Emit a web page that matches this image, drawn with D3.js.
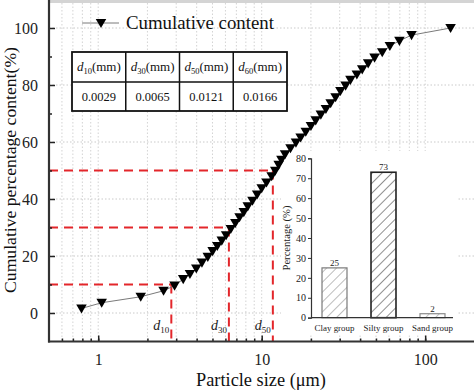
<!DOCTYPE html>
<html>
<head>
<meta charset="utf-8">
<script src="https://cdn.jsdelivr.net/npm/d3@7"></script>
<style>
  html, body { margin: 0; padding: 0; background: #fff; }
  svg { display: block; }
  svg text { font-family: "Liberation Serif", "Times New Roman", serif; }
</style>
</head>
<body>
<svg id="chart" width="474" height="392"></svg>
<script>
// ---- Data ----
const particleSize = [0.79, 1.05, 1.82, 2.51, 2.93, 3.31, 3.64, 3.98, 4.31, 4.68, 5.01, 5.35, 5.70, 6.06, 6.47, 6.90, 7.32, 7.77, 8.22, 8.78, 9.38, 10.0, 10.7, 11.5, 12.1, 12.7, 13.2, 13.9, 15.0, 16.2, 17.3, 18.6, 20.0, 21.4, 23.0, 24.7, 26.4, 28.3, 30.3, 32.6, 34.9, 38.2, 41.2, 44.8, 49.0, 54.6, 60.8, 69.6, 82.5, 143];
const cumulative   = [1.6, 3.6, 5.7, 7.8, 9.6, 11.9, 13.7, 15.6, 17.7, 19.7, 21.7, 23.5, 25.4, 27.3, 29.5, 31.6, 33.6, 35.4, 37.4, 39.4, 41.6, 43.8, 45.8, 48.0, 49.9, 52.0, 53.8, 55.7, 57.8, 59.8, 61.6, 63.6, 65.6, 67.6, 69.6, 71.6, 73.6, 75.7, 77.9, 79.8, 81.8, 83.7, 85.5, 87.6, 89.6, 91.5, 93.7, 95.5, 97.5, 100];
const guideLevels = [10, 30, 50];
const guideSizes = [2.8, 6.3, 11.7];
const guideLabels = ["10", "30", "50"];
const tableHeaders = ["10", "30", "50", "60"];
const tableValues = ["0.0029", "0.0065", "0.0121", "0.0166"];
const xTickValues = [1, 10, 100];
const yTickValues = [0, 20, 40, 60, 80, 100];
const groupNames = ["Clay group", "Silty group", "Sand group"];
const groupValues = [25, 73, 2];
const insetTicks = [0, 10, 20, 30, 40, 50, 60, 70, 80];

const SERIF = "Liberation Serif, Times New Roman, serif";
function fitWidth(sel, target) {
  const n = sel.node();
  const fs = parseFloat(sel.attr("font-size"));
  const w = n.getComputedTextLength();
  if (w > 0) sel.attr("font-size", (fs * target / w).toFixed(2));
  return sel;
}

// ---- Setup ----
const svg = d3.select("#chart");
const W = 474, H = 392;
const left = 49, bottom = 341.5;
const x = d3.scaleLog().domain([0.5, 200]).range([left, 474.4]);
const y = d3.scaleLinear().domain([-10, 110]).range([bottom, -0.5]);

// Top band (top frame)
svg.append("rect").attr("x", left).attr("y", 0).attr("width", W - left).attr("height", 3).attr("fill", "#d4d4d4");

// Grid
const minorX = [];
[0.1, 1, 10, 100].forEach(d => { for (let k = 1; k <= 9; k++) { const v = d * k; if (v > 0.5 && v <= 200) minorX.push(v); } });
const grid = svg.append("g");
grid.selectAll("line.vx").data(minorX).join("line")
  .attr("x1", d => x(d)).attr("x2", d => x(d)).attr("y1", 3).attr("y2", bottom)
  .attr("stroke", "#c8c8c8").attr("stroke-width", 0.8).attr("stroke-dasharray", "1.5,2");
grid.selectAll("line.hy").data(yTickValues).join("line")
  .attr("x1", left).attr("x2", W).attr("y1", d => y(d)).attr("y2", d => y(d))
  .attr("stroke", "#bdbdbd").attr("stroke-width", 0.8).attr("stroke-dasharray", "1.5,2");

// Red guide lines
const red = "#e3262b";
guideLevels.forEach((lv, i) => {
  svg.append("line").attr("x1", left).attr("x2", x(guideSizes[i])).attr("y1", y(lv)).attr("y2", y(lv))
    .attr("stroke", red).attr("stroke-width", 2).attr("stroke-dasharray", "9,6");
  svg.append("line").attr("x1", x(guideSizes[i])).attr("x2", x(guideSizes[i])).attr("y1", y(lv)).attr("y2", bottom)
    .attr("stroke", red).attr("stroke-width", 2).attr("stroke-dasharray", "9,6");
  const t = svg.append("text").attr("x", x(guideSizes[i]) - 2).attr("y", 330)
    .attr("text-anchor", "end").attr("font-size", 14).attr("fill", "#222").attr("font-family", SERIF);
  t.append("tspan").attr("font-style", "italic").text("d");
  t.append("tspan").attr("font-size", 9).attr("dy", 3).text(guideLabels[i]);
});

// Inset background (drawn before curve so markers stay visible)
svg.append("rect").attr("x", 281).attr("y", 151).attr("width", 176).attr("height", 184).attr("fill", "#fff");

// Axes
const xAxisG = svg.append("g").attr("transform", `translate(0,${bottom})`);
xAxisG.call(d3.axisBottom(x).tickValues(minorX.filter(d => d < 200)).tickSize(-3).tickFormat(""))
  .call(g => g.select(".domain").remove());
xAxisG.append("g").call(d3.axisBottom(x).tickValues(xTickValues).tickSize(-6).tickPadding(12).tickFormat(d3.format("d")))
  .call(gg => gg.select(".domain").remove())
  .call(gg => gg.selectAll("text").attr("font-size", 16).attr("fill", "#222").attr("font-family", SERIF));
xAxisG.selectAll("line").attr("stroke", "#222").attr("stroke-width", 1.5);
svg.append("line").attr("x1", left - 1).attr("x2", W).attr("y1", bottom).attr("y2", bottom).attr("stroke", "#333").attr("stroke-width", 2.2);

const yAxisG = svg.append("g").attr("transform", `translate(${left},0)`);
yAxisG.call(d3.axisLeft(y).tickValues([10, 30, 50, 70, 90]).tickSize(-3).tickFormat(""))
  .call(g => g.select(".domain").remove());
yAxisG.append("g").call(d3.axisLeft(y).tickValues(yTickValues).tickSize(-6).tickPadding(11))
  .call(g => g.select(".domain").remove())
  .call(g => g.selectAll("text").attr("font-size", 16).attr("fill", "#222").attr("font-family", SERIF));
yAxisG.selectAll("line").attr("stroke", "#222").attr("stroke-width", 1.5);
svg.append("line").attr("x1", left).attr("x2", left).attr("y1", 0).attr("y2", bottom + 1).attr("stroke", "#333").attr("stroke-width", 2.2);

// Line + markers
const line = d3.line().x((d, i) => x(particleSize[i])).y((d, i) => y(cumulative[i]));
svg.append("path").datum(cumulative).attr("d", line).attr("fill", "none").attr("stroke", "#7a7a7a").attr("stroke-width", 1);
const tri = d3.symbol().type(d3.symbolTriangle).size(48);
svg.selectAll("path.m").data(cumulative).join("path")
  .attr("d", tri)
  .attr("transform", (d, i) => `translate(${x(particleSize[i])},${y(d) - 1}) rotate(180)`)
  .attr("fill", "#000");

// Axis titles
fitWidth(svg.append("text").attr("x", 261).attr("y", 386).attr("text-anchor", "middle").attr("font-size", 19)
  .attr("font-family", SERIF).attr("fill", "#111").text("Particle size (\u03bcm)"), 130);
fitWidth(svg.append("text").attr("transform", "translate(15.5,170) rotate(-90)").attr("text-anchor", "middle").attr("font-size", 18)
  .attr("font-family", SERIF).attr("fill", "#111").text("Cumulative percentage content(%)"), 246);

// Legend
svg.append("line").attr("x1", 82).attr("x2", 119).attr("y1", 23).attr("y2", 23).attr("stroke", "#7a7a7a").attr("stroke-width", 1);
svg.append("path").attr("d", tri).attr("transform", "translate(101,22) rotate(180)").attr("fill", "#000");
fitWidth(svg.append("text").attr("x", 126).attr("y", 29).attr("font-size", 18).attr("font-family", SERIF)
  .attr("fill", "#111").text("Cumulative content"), 148);

// Table
const tx0 = 72, tx1 = 287, ty0 = 52, ty1 = 111, tmid = 82;
const colW = (tx1 - tx0) / 4;
const tbl = svg.append("g");
tbl.append("rect").attr("x", tx0).attr("y", ty0).attr("width", tx1 - tx0).attr("height", ty1 - ty0).attr("fill", "#fff").attr("stroke", "#111").attr("stroke-width", 1.8);
tbl.append("line").attr("x1", tx0).attr("x2", tx1).attr("y1", tmid).attr("y2", tmid).attr("stroke", "#111").attr("stroke-width", 1.5);
for (let i = 1; i < 4; i++) {
  tbl.append("line").attr("x1", tx0 + i * colW).attr("x2", tx0 + i * colW).attr("y1", ty0).attr("y2", ty1).attr("stroke", "#111").attr("stroke-width", 1.5);
}
tableHeaders.forEach((h, i) => {
  const t = tbl.append("text").attr("x", tx0 + (i + 0.5) * colW).attr("y", 71).attr("text-anchor", "middle").attr("font-size", 13)
    .attr("font-family", SERIF).attr("fill", "#111");
  t.append("tspan").attr("font-style", "italic").text("d");
  t.append("tspan").attr("font-size", 8.5).attr("dy", 3).text(h);
  t.append("tspan").attr("dy", -3).text("(mm)");
});
tableValues.forEach((v, i) => {
  tbl.append("text").attr("x", tx0 + (i + 0.5) * colW).attr("y", 100.5).attr("text-anchor", "middle").attr("font-size", 12.5)
    .attr("font-family", SERIF).attr("fill", "#111").text(v);
});

// Inset bar chart
const inset = svg.append("g");
const defs = svg.append("defs");
const hatchColors = ["#7a7a7a", "#222", "#8a8a8a"];
hatchColors.forEach((c, i) => {
  const p = defs.append("pattern").attr("id", "hatch" + i).attr("patternUnits", "userSpaceOnUse")
    .attr("width", 7).attr("height", 7).attr("patternTransform", "rotate(45)");
  p.append("rect").attr("width", 7).attr("height", 7).attr("fill", "#fff");
  p.append("line").attr("x1", 0).attr("x2", 0).attr("y1", 0).attr("y2", 7).attr("stroke", c).attr("stroke-width", 1);
});
const iy = d3.scaleLinear().domain([0, 80]).range([317.7, 158.3]);
const ix = d3.scaleBand().domain(groupNames).range([310, 457]).paddingInner(0.49).paddingOuter(0.245);
inset.selectAll("rect.bar").data(groupValues).join("rect")
  .attr("x", (d, i) => ix(groupNames[i])).attr("width", ix.bandwidth())
  .attr("y", d => iy(d)).attr("height", d => iy(0) - iy(d))
  .attr("fill", (d, i) => `url(#hatch${i})`)
  .attr("stroke", (d, i) => hatchColors[i]).attr("stroke-width", (d, i) => i === 1 ? 1.6 : 1.2);
inset.selectAll("text.val").data(groupValues).join("text")
  .attr("x", (d, i) => ix(groupNames[i]) + ix.bandwidth() / 2).attr("y", d => iy(d) - 2)
  .attr("text-anchor", "middle").attr("font-size", 9).attr("font-family", SERIF).attr("fill", "#222").text(d => d);
const iyAxis = inset.append("g").attr("transform", "translate(311,0)")
  .call(d3.axisLeft(iy).tickValues(insetTicks).tickSize(3).tickPadding(2));
iyAxis.select(".domain").attr("stroke", "#333").attr("stroke-width", 1.2);
iyAxis.selectAll("line").attr("stroke", "#333");
iyAxis.selectAll("text").attr("font-size", 10).attr("fill", "#222").attr("font-family", SERIF);
inset.append("line").attr("x1", 311).attr("x2", 453).attr("y1", iy(0)).attr("y2", iy(0)).attr("stroke", "#333").attr("stroke-width", 1.2);
const cats = inset.selectAll("text.cat").data(groupNames).join("text")
  .attr("x", d => ix(d) + ix.bandwidth() / 2).attr("y", 331)
  .attr("text-anchor", "middle").attr("font-size", 11).attr("font-family", SERIF).attr("fill", "#222").text(d => d);
fitWidth(d3.select(cats.nodes()[0]), 40);
const catFs = d3.select(cats.nodes()[0]).attr("font-size");
cats.attr("font-size", catFs);
fitWidth(inset.append("text").attr("transform", "translate(290,238) rotate(-90)").attr("text-anchor", "middle")
  .attr("font-size", 12).attr("font-family", SERIF).attr("fill", "#222").text("Percentage (%)"), 65);
</script>
</body>
</html>
